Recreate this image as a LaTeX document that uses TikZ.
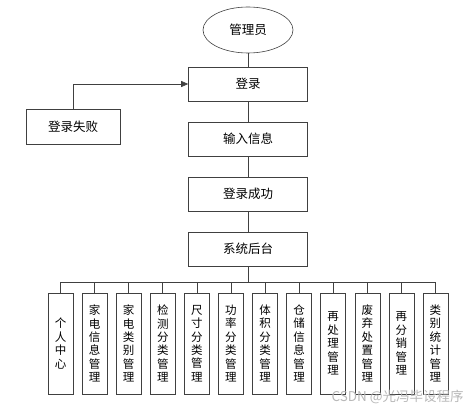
\documentclass[tikz,border=0pt]{standalone}
\usepackage{fontspec}
\setmainfont{Noto Sans CJK SC}
\usetikzlibrary{shapes.geometric,arrows.meta}
\definecolor{linegray}{gray}{0.25}
\definecolor{markgray}{gray}{0.72}

\begin{document}
\begin{tikzpicture}[x=1pt, y=-1pt, semithick, draw=linegray,
font=\fontsize{12.5}{14}\selectfont,
role/.style={ellipse, draw=linegray, minimum width=90pt, minimum height=46pt, inner sep=0pt},
stepbox/.style={rectangle, draw=linegray, minimum width=119pt, minimum height=34pt, inner sep=0pt},
modbox/.style={rectangle, draw=linegray, minimum width=25pt, minimum height=101pt, inner sep=0pt,
  align=center, font=\fontsize{11.5}{13.4}\selectfont}]
  \useasboundingbox (0,0) rectangle (474,409);
  % admin
  \node[role] (admin) at (248,30) {管理员};
  % login flow
  \node[stepbox] (login) at (248,84) {登录};
  \node[stepbox, minimum width=94pt, minimum height=35pt] (fail) at (73,126.5) {登录失败};
  \node[stepbox] (input) at (248,139) {输入信息};
  \node[stepbox] (ok) at (248,194) {登录成功};
  \node[stepbox] (back) at (248,249) {系统后台};
  % modules
  \coordinate (bus) at (248,282);
  \foreach \i/\txt in {0/{个\\人\\中\\心}, 1/{家\\电\\信\\息\\管\\理}, 2/{家\\电\\类\\别\\管\\理},
      3/{检\\测\\分\\类\\管\\理}, 4/{尺\\寸\\分\\类\\管\\理}, 5/{功\\率\\分\\类\\管\\理},
      6/{体\\积\\分\\类\\管\\理}, 7/{仓\\储\\信\\息\\管\\理}, 8/{再\\处\\理\\管\\理},
      9/{废\\弃\\处\\置\\管\\理}, 10/{再\\分\\销\\管\\理}, 11/{类\\别\\统\\计\\管\\理}}
    \node[modbox] (m\i) at (60.5+34.09*\i,343.5) {\txt};

\foreach \from/\to in {admin/login,login/input,input/ok,ok/back}
    \draw (\from) -- (\to);
\draw (back) -- (bus);
\foreach \i in {0,...,11}
    \draw (m\i.north) |- (bus);
\draw[-{Triangle[length=7pt,width=6pt]}] (fail.north) |- (login.west);

  % watermark
  \node[text=markgray, font=\fontsize{13.5}{15}\selectfont, anchor=east, inner sep=0pt] (mark) at (464,397) {CSDN @光冯毕设程序};
\end{tikzpicture}
\end{document}
